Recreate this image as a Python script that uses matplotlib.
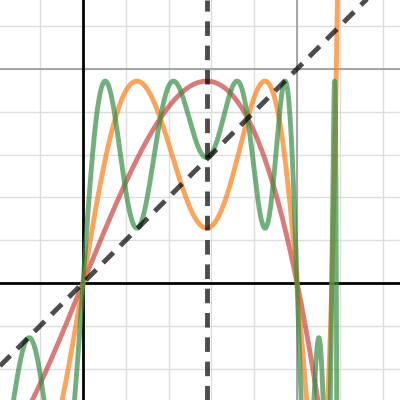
import numpy as np
import matplotlib.pyplot as plt

# cubic map parameter and view window
a = 2.45
x_range = (-0.388, 1.481)
y_range = (-0.547, 1.322)

red = "#c74440"
orange = "#fa7e19"
green = "#388c46"


def cubic_map(x):
    return a * x * (1 - x ** 2)


fig = plt.figure(figsize=(4, 4), dpi=100)
ax = fig.add_axes([0, 0, 1, 1])

x = np.linspace(x_range[0], x_range[1], 6000)
f1 = cubic_map(x)
f2 = cubic_map(f1)
f3 = cubic_map(f2)

# grid
for g in np.arange(-0.4, 1.6, 0.2):
    ax.axvline(g, color="#dddddd", lw=1, zorder=0)
    ax.axhline(g, color="#dddddd", lw=1, zorder=0)
ax.axvline(1, color="#999999", lw=1.2, zorder=0)
ax.axhline(1, color="#999999", lw=1.2, zorder=0)
ax.axvline(0, color="black", lw=2, zorder=1)
ax.axhline(0, color="black", lw=2, zorder=1)

ax.plot(x, f1, color=red, lw=3.5, alpha=0.7, zorder=2)
ax.plot(x, f2, color=orange, lw=3.5, alpha=0.7, zorder=3)
ax.plot(x, f3, color=green, lw=3.5, alpha=0.7, zorder=4)
ax.plot(x, x, color="black", lw=3.5, alpha=0.7, ls=(0, (3, 2)), zorder=5)
ax.axvline(1 / np.sqrt(3), color="black", lw=3.5, alpha=0.7, ls=(0, (3, 2)), zorder=5)

ax.set_xlim(*x_range)
ax.set_ylim(*y_range)
ax.axis("off")

fig.savefig("out.png", dpi=100)
